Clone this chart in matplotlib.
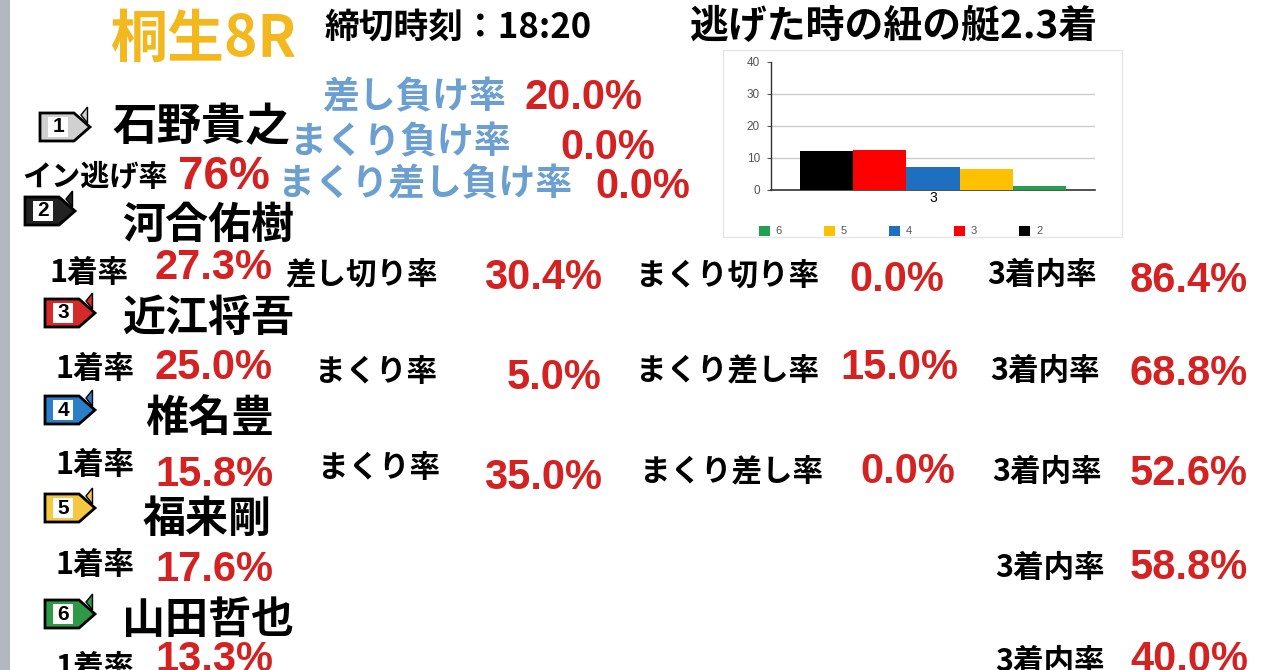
import matplotlib.pyplot as plt
from matplotlib.patches import Polygon, Rectangle

plt.rcParams['font.family'] = ['Noto Sans CJK JP', 'DejaVu Sans']

# データ
lane_nums = [1, 2, 3, 4, 5, 6]
racer_names = ['石野貴之', '河合佑樹', '近江将吾', '椎名豊', '福来剛', '山田哲也']
boat_colors = ['#d0d0d0', '#222222', '#d42a2a', '#2a7fc8', '#f5c842', '#2e9a48']

in_nige_rate = 76
lose_labels = ['差し負け率', 'まくり負け率', 'まくり差し負け率']
lose_rates = [20.0, 0.0, 0.0]

win_rates = [27.3, 25.0, 15.8, 17.6, 13.3]          # 2〜6号艇 1着率
top3_rates = [86.4, 68.8, 52.6, 58.8, 40.0]         # 2〜6号艇 3着内率
mid_labels = ['差し切り率', 'まくり率', 'まくり率']
mid_rates = [30.4, 5.0, 35.0]
right_labels = ['まくり切り率', 'まくり差し率', 'まくり差し率']
right_rates = [0.0, 15.0, 0.0]

bar_lanes = ['2', '3', '4', '5', '6']
bar_values = [12.3, 12.4, 7.3, 6.6, 1.1]
bar_colors = ['#000000', '#ff0000', '#1f6fc0', '#ffc000', '#20a050']

RED = '#d42222'
BLUE = '#6a9fd0'
NUM_FONT = ['Liberation Sans', 'DejaVu Sans']


def pct(v):
    return f"{v:.1f}%"


def draw_boat(ax, x, y, color, num, w=50, h=28):
    # 艇アイコン(先が尖った札の形)
    pts = [(x, y - h / 2), (x + w * 0.68, y - h / 2), (x + w, y),
           (x + w * 0.68, y + h / 2), (x, y + h / 2)]
    ax.add_patch(Polygon(pts, closed=True, facecolor=color, edgecolor='black', lw=2, zorder=3))
    ax.add_patch(Polygon([(x + w * 0.82, y - h / 2 + 2), (x + w * 0.95, y - h / 2 - 6),
                          (x + w * 0.95, y - 4)], closed=True, facecolor=color,
                         edgecolor='black', lw=1, zorder=3))
    ax.add_patch(Rectangle((x + 8, y - h / 2 + 4), 20, h - 8, facecolor='white',
                           edgecolor='none', zorder=4))
    ax.text(x + 18, y, str(num), ha='center', va='center', fontsize=15, fontweight='bold',
            family=NUM_FONT, color='black', zorder=5)


fig = plt.figure(figsize=(12.8, 6.7), dpi=100)
ax = fig.add_axes([0, 0, 1, 1])
ax.set_xlim(0, 1280)
ax.set_ylim(670, 0)
ax.axis('off')

# 左端のグレー帯
ax.add_patch(Rectangle((0, 0), 10, 670, facecolor='#b3b7bf', edgecolor='none'))

# ヘッダー
ax.text(203, 40, '桐生8R', ha='center', va='center', fontsize=41, fontweight='bold', color='#f4b81f')
ax.text(325, 27, '締切時刻：18:20', ha='left', va='center', fontsize=25, fontweight='bold')
ax.text(690, 27, '逃げた時の紐の艇2.3着', ha='left', va='center', fontsize=28, fontweight='bold')

# 1号艇
draw_boat(ax, 40, 127, boat_colors[0], lane_nums[0])
ax.text(112, 127, racer_names[0], ha='left', va='center', fontsize=32, fontweight='bold')
ax.text(22, 177, 'イン逃げ率', ha='left', va='center', fontsize=21, fontweight='bold')
ax.text(270, 177, f"{in_nige_rate}%", ha='right', va='center', fontsize=33,
        fontweight='bold', family=NUM_FONT, color=RED)

lose_lx = [322, 290, 278]
lose_ly = [98, 143, 185]
lose_vx = [642, 655, 690]
lose_vy = [98, 148, 187]
for i in range(3):
    ax.text(lose_lx[i], lose_ly[i], lose_labels[i], ha='left', va='center',
            fontsize=26.5, fontweight='bold', color=BLUE)
    ax.text(lose_vx[i], lose_vy[i], pct(lose_rates[i]), ha='right', va='center',
            fontsize=30, fontweight='bold', family=NUM_FONT, color=RED)

# 2〜6号艇
icon_x = [25, 45, 45, 45, 45]
icon_y = [211, 313, 410, 508, 614]
name_x = [122, 122, 145, 142, 122]
name_y = [225, 318, 418, 519, 620]
win_lx = [50, 55, 55, 55, 55]
win_ly = [273, 369, 465, 565, 668]
win_vy = [268, 368, 475, 570, 660]
top3_lx = [987, 990, 992, 995, 995]
top3_ly = [275, 371, 472, 568, 662]
top3_vy = [281, 374, 474, 568, 660]
mid_lx = [285, 315, 318]
mid_ly = [275, 372, 468]
mid_vy = [278, 378, 478]
right_lx = [636, 636, 640]
right_ly = [277, 371, 472]
right_vx = [944, 958, 955]
right_vy = [280, 368, 472]

for i in range(5):
    draw_boat(ax, icon_x[i], icon_y[i], boat_colors[i + 1], lane_nums[i + 1])
    ax.text(name_x[i], name_y[i], racer_names[i + 1], ha='left', va='center',
            fontsize=31, fontweight='bold')
    ax.text(win_lx[i], win_ly[i], '1着率', ha='left', va='center', fontsize=22, fontweight='bold')
    ax.text(273, win_vy[i], pct(win_rates[i]), ha='right', va='center', fontsize=30,
            fontweight='bold', family=NUM_FONT, color=RED)
    ax.text(top3_lx[i], top3_ly[i], '3着内率', ha='left', va='center', fontsize=22, fontweight='bold')
    ax.text(1248, top3_vy[i], pct(top3_rates[i]), ha='right', va='center', fontsize=30,
            fontweight='bold', family=NUM_FONT, color=RED)
    if i < 3:
        ax.text(mid_lx[i], mid_ly[i], mid_labels[i], ha='left', va='center',
                fontsize=22, fontweight='bold')
        ax.text(602, mid_vy[i], pct(mid_rates[i]), ha='right', va='center', fontsize=30,
                fontweight='bold', family=NUM_FONT, color=RED)
        ax.text(right_lx[i], right_ly[i], right_labels[i], ha='left', va='center',
                fontsize=22, fontweight='bold')
        ax.text(right_vx[i], right_vy[i], pct(right_rates[i]), ha='right', va='center',
                fontsize=30, fontweight='bold', family=NUM_FONT, color=RED)

# グラフの枠
ax.add_patch(Rectangle((723, 50), 399, 187, facecolor='white', edgecolor='#e6e6e6', lw=1, zorder=1))

# 棒グラフ
bx = fig.add_axes([771 / 1280, 1 - 190 / 670, 324 / 1280, 128 / 670])
bx.patch.set_alpha(0)
w = 0.164
for k in range(len(bar_lanes)):
    bx.bar((k - 2) * w, bar_values[k], width=w, color=bar_colors[k], label=bar_lanes[k], zorder=3)
bx.set_xlim(-0.5, 0.5)
bx.set_ylim(0, 40)
bx.set_yticks([0, 10, 20, 30, 40])
bx.set_xticks([0])
bx.set_xticklabels(['3'], fontsize=10, family=NUM_FONT)
bx.tick_params(axis='x', length=0, pad=1)
bx.tick_params(axis='y', labelsize=8.5, colors='#555555', length=3, pad=5)
for lbl in bx.get_yticklabels():
    lbl.set_family(NUM_FONT)
bx.yaxis.grid(True, color='#cccccc', lw=1)
bx.get_ygridlines()[-1].set_visible(False)
for s in ['top', 'right']:
    bx.spines[s].set_visible(False)
bx.spines['left'].set_color('#333333')
bx.spines['bottom'].set_color('#333333')
bx.spines['left'].set_linewidth(1)
bx.spines['bottom'].set_linewidth(1.2)

handles, labels = bx.get_legend_handles_labels()
leg = bx.legend(handles[::-1], labels[::-1], ncol=5, loc='center', bbox_to_anchor=(0.40, -0.32),
                frameon=False, handlelength=1.0, handleheight=1.0,
                columnspacing=3.8, handletextpad=0.5, prop={'family': NUM_FONT, 'size': 8})
for t in leg.get_texts():
    t.set_color('#555555')

fig.savefig('out.png', dpi=100)
